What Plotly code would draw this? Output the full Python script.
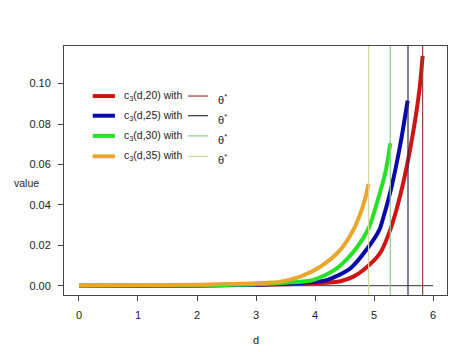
import plotly.graph_objects as go

# ---- data ----
d_20 = [0, 1, 2, 2.5, 3, 3.5, 4.0, 4.43, 4.65, 4.82, 5.1, 5.28, 5.47, 5.64, 5.77, 5.824]
c3_20 = [0.0, 0.0, 0.0001, 0.0002, 0.0004, 0.0007, 0.0012, 0.0022, 0.0045, 0.0078, 0.016, 0.028, 0.0477, 0.072, 0.097, 0.1137]

d_25 = [0, 1, 2, 2.5, 3, 3.5, 3.9, 4.2, 4.6, 4.89, 5.09, 5.16, 5.29, 5.44, 5.57]
c3_25 = [0.0, 0.0, 0.0001, 0.0003, 0.0005, 0.001, 0.0017, 0.0028, 0.0086, 0.0185, 0.0276, 0.034, 0.048, 0.069, 0.0916]

d_30 = [0, 1, 2, 2.5, 3, 3.5, 3.97, 4.37, 4.7, 4.91, 5.1, 5.2, 5.276]
c3_30 = [0.0, 0.0001, 0.0002, 0.0004, 0.0007, 0.0015, 0.0028, 0.0086, 0.0185, 0.0285, 0.046, 0.057, 0.0705]

d_35 = [0, 1, 2, 2.5, 3, 3.41, 3.75, 4.09, 4.43, 4.65, 4.77, 4.85, 4.908]
c3_35 = [0.0002, 0.0003, 0.0005, 0.0008, 0.0012, 0.002, 0.0045, 0.0094, 0.0177, 0.0276, 0.0358, 0.043, 0.0503]

n_values = [20, 25, 30, 35]
theta_star = [5.824, 5.576, 5.276, 4.908]
curve_colors = ["#D01414", "#0A0AAA", "#26E226", "#E9A52C"]
theta_colors = ["#9B3B3B", "#2E2E48", "#88CC88", "#D8D49C"]

x_ticks = [0, 1, 2, 3, 4, 5, 6]
y_ticks = [0.00, 0.02, 0.04, 0.06, 0.08, 0.10]
zero_line_x = [0, 6]
zero_line_y = [0, 0]

series = [(d_20, c3_20), (d_25, c3_25), (d_30, c3_30), (d_35, c3_35)]

fig = go.Figure()

# reference horizontal line at zero
fig.add_trace(go.Scatter(x=zero_line_x, y=zero_line_y, mode="lines",
                         line=dict(color="#333333", width=1), showlegend=False,
                         hoverinfo="skip"))

# theta* vertical lines
for th, col in zip(theta_star, theta_colors):
    fig.add_shape(type="line", xref="x", yref="paper", x0=th, x1=th, y0=0, y1=1,
                  line=dict(color=col, width=1.2))

# curves
for (dx, vy), col in zip(series, curve_colors):
    fig.add_trace(go.Scatter(x=dx, y=vy, mode="lines",
                             line=dict(color=col, width=4, shape="spline", smoothing=0.8),
                             showlegend=False, hoverinfo="skip"))

# legend drawn manually (two columns, as in the original)
FONT = "Liberation Sans, Arial, sans-serif"
row_y = [0.799, 0.720, 0.639, 0.557]
for n, cc, tc, ry in zip(n_values, curve_colors, theta_colors, row_y):
    fig.add_shape(type="line", xref="paper", yref="paper", x0=0.075, x1=0.133, y0=ry, y1=ry,
                  line=dict(color=cc, width=4))
    fig.add_annotation(xref="paper", yref="paper", x=0.151, y=ry, xanchor="left", yanchor="middle",
                       text=f"c<sub>3</sub>(d,{n}) with", showarrow=False,
                       font=dict(family=FONT, size=10.5, color="#222222"))
    fig.add_shape(type="line", xref="paper", yref="paper", x0=0.324, x1=0.376, y0=ry, y1=ry,
                  line=dict(color=tc, width=1.2))
    fig.add_annotation(xref="paper", yref="paper", x=0.398, y=ry - 0.012, xanchor="left", yanchor="middle",
                       text="θ<sup>*</sup>", showarrow=False,
                       font=dict(family=FONT, size=11, color="#222222"))

# axis titles
fig.add_annotation(xref="paper", yref="paper", x=-0.097, y=0.45, xanchor="center", yanchor="middle",
                   text="value", showarrow=False, font=dict(family=FONT, size=10.5, color="#222222"))
fig.add_annotation(xref="paper", yref="paper", x=0.5, y=-0.181, xanchor="center", yanchor="middle",
                   text="d", showarrow=False, font=dict(family=FONT, size=11, color="#222222"))

fig.update_layout(
    width=474, height=352,
    margin=dict(l=64, r=27, t=46, b=57),
    paper_bgcolor="white", plot_bgcolor="white",
    font=dict(family=FONT, size=11, color="#222222"),
    showlegend=False,
)
fig.update_xaxes(range=[-0.254, 6.237], tickvals=x_ticks, ticktext=[str(v) for v in x_ticks],
                 showgrid=False, zeroline=False, showline=True, linecolor="#444444", linewidth=1,
                 mirror=True, ticks="outside", ticklen=5, tickcolor="#444444",
                 ticklabelstandoff=5, tickfont=dict(size=11, color="#222222"))
fig.update_yaxes(range=[-0.0046, 0.1186], tickvals=y_ticks, ticktext=[f"{v:.2f}" for v in y_ticks],
                 showgrid=False, zeroline=False, showline=True, linecolor="#444444", linewidth=1,
                 mirror=True, ticks="outside", ticklen=5, tickcolor="#444444",
                 ticklabelstandoff=5, tickfont=dict(size=11, color="#222222"))

fig.write_html("out.html")
